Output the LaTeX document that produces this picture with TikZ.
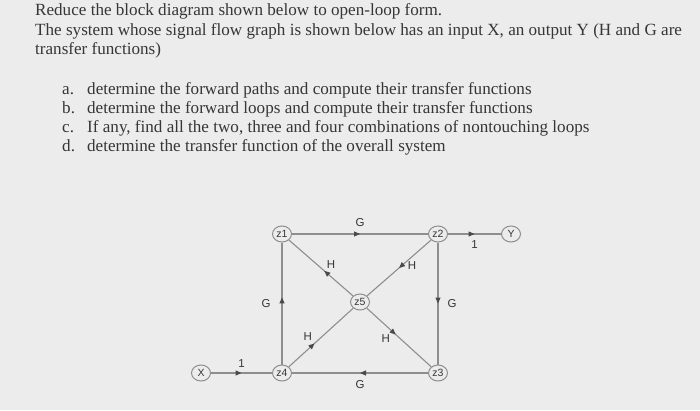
\documentclass[tikz,border=0pt]{standalone}
\usepackage{fontspec}
\setmainfont{Liberation Serif}
\setsansfont{Liberation Sans}
\usetikzlibrary{arrows.meta,decorations.markings,positioning,shapes.geometric}

\definecolor{paperbg}{HTML}{ECECEC}
\definecolor{inkgray}{HTML}{363636}
\definecolor{wiregray}{HTML}{8E8E8E}
\definecolor{tipgray}{HTML}{4A4A4A}

\begin{document}
\begin{tikzpicture}[x=1pt,y=1pt,
  question/.style={anchor=base west,inner sep=0pt,text=inkgray,font=\fontsize{17.1}{20}\selectfont},
  junction/.style={ellipse,draw=wiregray,fill=paperbg,line width=1pt,minimum width=19pt,minimum height=16pt,inner sep=0pt,text=inkgray,font=\sffamily\fontsize{10.5}{11}\selectfont},
  gain/.style={text=inkgray,inner sep=2pt,font=\sffamily\fontsize{11.5}{13}\selectfont},
  flow/.style={draw=wiregray,line width=1.1pt,decoration={markings,mark=at position #1 with {\arrow[tipgray]{Triangle[length=6pt,width=5pt]}}},postaction=decorate},
  flow/.default=0.5]
  \fill[paperbg] (0,0) rectangle (700,410);
  \useasboundingbox (0,0) rectangle (700,410);

  \node[question] (line1) at (35,394) {Reduce the block diagram shown below to open-loop form.};
  \node[question] (line2) at (35,374) {The system whose signal flow graph is shown below has an input X, an output Y (H and G are};
  \node[question] (line3) at (35,355) {transfer functions)};
  \node[question] (itema) at (62,315.5) {\makebox[25pt][l]{a.}determine the forward paths and compute their transfer functions};
  \node[question] (itemb) at (62,296.5) {\makebox[25pt][l]{b.}determine the forward loops and compute their transfer functions};
  \node[question] (itemc) at (62,277.3) {\makebox[25pt][l]{c.}If any, find all the two, three and four combinations of nontouching loops};
  \node[question] (itemd) at (62,258.3) {\makebox[25pt][l]{d.}determine the transfer function of the overall system};

  \node[junction] (X) at (201,37) {X};
  \node[junction] (z4) at (282,37) {z4};
  \node[junction] (z3) at (438,37) {z3};
  \node[junction] (z5) at (360,108) {z5};
  \node[junction] (z1) at (282,176) {z1};
  \node[junction] (z2) at (438,176) {z2};
  \node[junction] (Y) at (511,176) {Y};

  \draw[flow] (X) -- node[gain,above=3pt] {1} (z4);
  \draw[flow=0.55] (z4) -- node[gain,left=9pt] {G} (z1);
  \draw[flow] (z1) -- node[gain,above=5pt] {G} (z2);
  \draw[flow] (z2) -- node[gain,below=4pt] {1} (Y);
  \draw[flow] (z2) -- node[gain,right=7pt] {G} (z3);
  \draw[flow] (z3) -- node[gain,below=5pt] {G} (z4);
  \draw[flow=0.45] (z5) -- node[gain,pos=0.45,above right=0pt and 0pt] {H} (z1);
  \draw[flow] (z2) -- node[gain,pos=0.45,right=3pt] {H} (z5);
  \draw[flow=0.4] (z4) -- node[gain,pos=0.4,above left=0pt and 0pt] {H} (z5);
  \draw[flow=0.45] (z5) -- node[gain,pos=0.4,below left=0pt and 0pt] {H} (z3);
\end{tikzpicture}
\end{document}
